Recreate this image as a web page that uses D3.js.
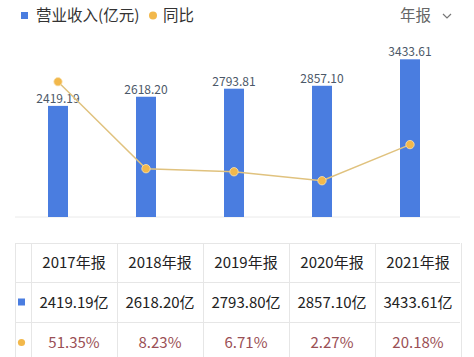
<!DOCTYPE html>
<html><head><meta charset="utf-8">
<script src="https://cdn.jsdelivr.net/npm/d3@7"></script>
<style>
html,body{margin:0;padding:0;background:#fff;}
svg{display:block;font-family:"Noto Sans CJK SC","Noto Sans",sans-serif;}
</style></head>
<body><svg id="c" width="474" height="357"></svg>
<script>
const categories = ["2017年报","2018年报","2019年报","2020年报","2021年报"];
const revenue = [2419.19, 2618.20, 2793.81, 2857.10, 3433.61];
const revenueTable = ["2419.19亿","2618.20亿","2793.80亿","2857.10亿","3433.61亿"];
const growth = [51.35, 8.23, 6.71, 2.27, 20.18];
const growthTable = ["51.35%","8.23%","6.71%","2.27%","20.18%"];
const legendLabels = ["营业收入(亿元)","同比"];
const periodLabel = "年报";

const BLUE = "#4a7de0", ORANGE = "#f2b84b", LINE = "#e0c27e";
const svg = d3.select("#c");

// legend
svg.append("rect").attr("x",21).attr("y",12).attr("width",7).attr("height",7).attr("fill",BLUE);
svg.append("text").attr("x",36).attr("y",21).attr("font-size",15.5).attr("fill","#333").text(legendLabels[0]);
svg.append("circle").attr("cx",153).attr("cy",15.5).attr("r",4).attr("fill",ORANGE);
svg.append("text").attr("x",163).attr("y",21).attr("font-size",15.5).attr("fill","#333").text(legendLabels[1]);
svg.append("text").attr("x",400).attr("y",21).attr("font-size",15.5).attr("fill","#666").text(periodLabel);
svg.append("path").attr("d","M443,14 L447,18 L451,14").attr("fill","none").attr("stroke","#777").attr("stroke-width",1.2);

// scales
const x = d3.scaleBand().domain(categories).range([14,454]).padding(0);
const y = d3.scaleLinear().domain([0,3433.61]).range([217,59.3]);
const y2 = d3.scaleLinear().domain([-15.72,62.47]).range([217,59.3]);
const bw = 20;
const cx = c => x(c) + x.bandwidth()/2;

// axis line
svg.append("line").attr("x1",15).attr("x2",460).attr("y1",217).attr("y2",217).attr("stroke","#eaeaea").attr("stroke-width",1);

// bars
svg.selectAll("rect.bar").data(revenue).enter().append("rect").attr("class","bar")
  .attr("x",(d,i)=>cx(categories[i])-bw/2).attr("width",bw)
  .attr("y",d=>y(d)).attr("height",d=>217-y(d)).attr("fill",BLUE);

svg.selectAll("text.bl").data(revenue).enter().append("text").attr("class","bl")
  .attr("x",(d,i)=>cx(categories[i])).attr("y",d=>y(d)-3)
  .attr("text-anchor","middle").attr("font-size",12).attr("fill","#4b5868")
  .text(d=>d.toFixed(2));

// line
const line = d3.line().x((d,i)=>cx(categories[i])).y(d=>y2(d));
svg.append("path").datum(growth).attr("d",line).attr("fill","none").attr("stroke",LINE).attr("stroke-width",1.5);
svg.selectAll("circle.pt").data(growth).enter().append("circle").attr("class","pt")
  .attr("cx",(d,i)=>cx(categories[i])).attr("cy",d=>y2(d)).attr("r",4.2)
  .attr("fill",ORANGE).attr("stroke","#f7e2b4").attr("stroke-width",0.8);

// table
const tx = d3.scaleBand().domain(categories).range([31,461]).padding(0);
const rowsY = [243,282,322,362];
const g = svg.append("g");
rowsY.forEach(ry=>g.append("line").attr("x1",15).attr("x2",460).attr("y1",ry+0.5).attr("y2",ry+0.5).attr("stroke","#e6e6e6"));
[15,31].concat(categories.map(c=>tx(c)+tx.bandwidth())).forEach(vx=>
  g.append("line").attr("x1",vx+0.5).attr("x2",vx+0.5).attr("y1",243).attr("y2",362).attr("stroke","#e6e6e6"));

const tcx = c => tx(c)+tx.bandwidth()/2;
g.selectAll("text.h").data(categories).enter().append("text").attr("class","h")
  .attr("x",d=>tcx(d)).attr("y",268).attr("text-anchor","middle").attr("font-size",15).attr("fill","#222").text(d=>d);
g.selectAll("text.r").data(revenueTable).enter().append("text").attr("class","r")
  .attr("x",(d,i)=>tcx(categories[i])).attr("y",307.5).attr("text-anchor","middle").attr("font-size",15).attr("fill","#222").text(d=>d);
g.selectAll("text.p").data(growthTable).enter().append("text").attr("class","p")
  .attr("x",(d,i)=>tcx(categories[i])).attr("y",348).attr("text-anchor","middle").attr("font-size",15).attr("fill","#9a4f55").text(d=>d);
g.append("rect").attr("x",18).attr("y",298.5).attr("width",7).attr("height",7).attr("fill",BLUE);
g.append("circle").attr("cx",21.5).attr("cy",342.5).attr("r",3.6).attr("fill",ORANGE);
</script></body></html>
